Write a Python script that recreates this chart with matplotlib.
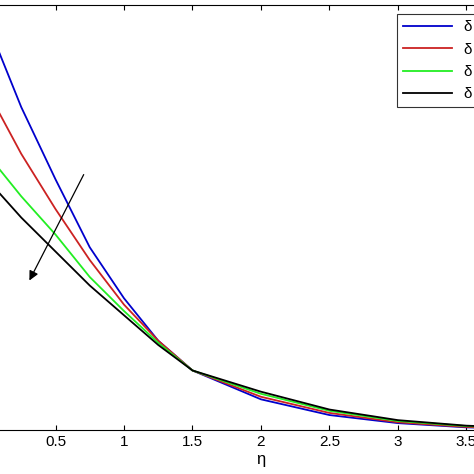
import matplotlib
matplotlib.use("Agg")
import matplotlib.pyplot as plt

eta = [0, 0.25, 0.5, 0.75, 1, 1.25, 1.5, 2, 2.5, 3, 3.5, 4]
blue = [0.96, 0.76, 0.59, 0.43, 0.31, 0.21, 0.14, 0.072, 0.035, 0.016, 0.006, 0.002]
red = [0.80, 0.65, 0.52, 0.40, 0.295, 0.21, 0.14, 0.078, 0.04, 0.018, 0.007, 0.003]
green = [0.65, 0.55, 0.46, 0.36, 0.28, 0.205, 0.14, 0.085, 0.045, 0.021, 0.009, 0.004]
black = [0.59, 0.50, 0.42, 0.34, 0.27, 0.20, 0.14, 0.09, 0.048, 0.023, 0.010, 0.004]
labels = ["δ = 0.1", "δ = 0.3", "δ = 0.5", "δ = 0.7"]
ticks = [0.5, 1, 1.5, 2, 2.5, 3, 3.5]
ticklabels = ['0.5', '1', '1.5', '2', '2.5', '3', '3.5']

plt.rcParams['font.family'] = ['Liberation Sans', 'DejaVu Sans']
fig = plt.figure(figsize=(4.74, 4.74), dpi=100)
ax = fig.add_axes([-0.0274, 0.093, 1.156, 0.896])
for y, c, l in zip([blue, red, green, black], ['#0000cc', '#cc2222', '#22ee22', 'black'], labels):
    ax.plot(eta, y, color=c, lw=1.3, label=l)
ax.set_xlim(0, 4)
ax.set_ylim(0, 1)
ax.set_xticks(ticks)
ax.set_xticklabels(ticklabels)
ax.set_yticks([])
ax.tick_params(direction='in', top=True, labelsize=11)
ax.set_xlabel('η', fontsize=12, labelpad=2)
ax.annotate('', xy=(0.30, 0.346), xytext=(0.715, 0.607),
            arrowprops=dict(arrowstyle='-|>', color='black', lw=0.9, mutation_scale=14))
leg = ax.legend(loc='upper left', bbox_to_anchor=(397/474, 1-14/474), bbox_transform=fig.transFigure,
                fancybox=False, edgecolor='black', fontsize=11, handlelength=3.2, borderaxespad=0,
                labelspacing=0.55)
leg.get_frame().set_linewidth(0.8)
fig.savefig('out.png', dpi=100)
